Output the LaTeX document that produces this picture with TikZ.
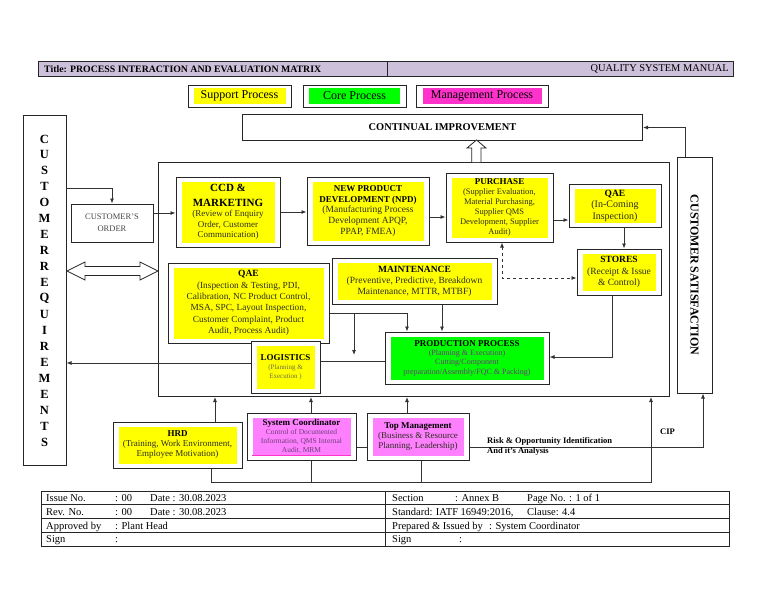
\documentclass[tikz,border=0pt]{standalone}
\usepackage{fontspec}
\setmainfont{Liberation Serif}
\usetikzlibrary{arrows.meta}
\setlength\parindent{0pt}
\definecolor{ylw}{RGB}{255,255,0}
\definecolor{grn}{RGB}{0,255,0}
\definecolor{mag}{RGB}{255,51,204}
\definecolor{pnk}{RGB}{255,128,255}
\definecolor{lav}{RGB}{204,192,218}
\definecolor{txt}{RGB}{45,45,30}
\definecolor{olv}{RGB}{110,110,70}
\definecolor{prp}{RGB}{110,60,120}
\newcommand\mytext[3]{{\fontsize{#1}{#2}\selectfont #3\par}}
\tikzset{
  pbox/.style={draw=black!85, fill=white, line width=1pt, inner sep=0pt, align=flush center,
    path picture={\fill[#1] ([xshift=5.5pt,yshift=-4.5pt]path picture bounding box.north west) rectangle ([xshift=-5.5pt,yshift=4.5pt]path picture bounding box.south east);}},
  plain/.style={draw=black!85, fill=white, line width=1pt, inner sep=0pt, align=flush center},
  arr/.style={draw=black!80, line width=0.8pt, -{Latex[length=5pt,width=4pt]}},
  darr/.style={draw=black!80, line width=0.8pt, dashed, {Latex[length=5pt,width=4pt]}-{Latex[length=5pt,width=4pt]}},
  conn/.style={draw=black!80, line width=0.8pt},
  ftxt/.style={anchor=base west, inner sep=0pt, font=\fontsize{10.5}{12}\selectfont},
}
\begin{document}
\begin{tikzpicture}[x=1pt,y=-1pt]
\useasboundingbox[fill=white] (0,0) rectangle (768,594);

% ---------- title bar ----------
\node[plain, fill=lav, line width=0.9pt, minimum width=349, minimum height=15, anchor=north west] (tl) at (38,61) {};
\node[plain, fill=lav, line width=0.9pt, minimum width=346, minimum height=15, anchor=north west] (tr) at (387,61) {};
\node[anchor=west, inner sep=0pt, font=\bfseries\fontsize{9.8}{10}\selectfont] (tlt) at ([xshift=6]tl.west) {Title: PROCESS INTERACTION AND EVALUATION MATRIX};
\node[anchor=east, inner sep=0pt, font=\fontsize{10.4}{11}\selectfont] (trt) at ([xshift=-5]tr.east) {QUALITY SYSTEM MANUAL};

% ---------- legend ----------
\node[plain, minimum width=103, minimum height=22] (l1) at (239.5,96) {};
\node[fill=ylw, minimum width=92, minimum height=15.7, inner sep=0pt, font=\fontsize{12}{12}\selectfont] (l1t) at (l1) {Support Process};
\node[plain, minimum width=103, minimum height=22] (l2) at (354.5,96) {};
\node[fill=grn, minimum width=90.5, minimum height=15.7, inner sep=0pt, font=\fontsize{12}{12}\selectfont] (l2t) at (l2) {Core Process};
\node[plain, minimum width=132, minimum height=22] (l3) at (482,96) {};
\node[fill=mag, minimum width=119, minimum height=15.7, inner sep=0pt, font=\fontsize{12}{12}\selectfont] (l3t) at (l3) {Management Process};

% ---------- frames ----------
\node[plain, minimum width=400, minimum height=26, anchor=north west, font=\bfseries\fontsize{10.4}{12}\selectfont] (ci) at (242,114) {CONTINUAL IMPROVEMENT};
\node[plain, minimum width=511, minimum height=234, anchor=north west] (main) at (158,162) {};
\node[plain, minimum width=43, minimum height=350] (cr) at (44.5,290) {};
\foreach \l [count=\i from 0] in {C,U,S,T,O,M,E,R,R,E,Q,U,I,R,E,M,E,N,T,S}
  \node[inner sep=0pt, font=\bfseries\fontsize{12.5}{13}\selectfont] (crl\i) at (44.5,139+\i*15.95) {\l};
\node[plain, minimum width=35, minimum height=236] (cs) at (694.5,275) {};
\node[rotate=-90, inner sep=0pt, font=\bfseries\fontsize{12}{13}\selectfont] (cst) at (cs) {CUSTOMER SATISFACTION};

\node[plain, minimum width=82, minimum height=38, text width=78, font=\fontsize{8.5}{12}\selectfont\color{black!72}] (ord) at (112,223) {CUSTOMER'S\\ORDER};

% ---------- process boxes ----------
\node[pbox=ylw, minimum width=104, minimum height=70, text width=92] (ccd) at (228,212)
 {\mytext{11}{14.5}{\bfseries CCD \&\\MARKETING}\mytext{9}{10.5}{\color{txt}(Review of Enquiry\\Order, Customer\\Communication)}};
\node[pbox=ylw, minimum width=122, minimum height=68, text width=110] (npd) at (368,211)
 {\mytext{9}{10.7}{\bfseries NEW PRODUCT\\DEVELOPMENT (NPD)}\mytext{9.5}{10.7}{\color{txt}(Manufacturing Process\\Development APQP,\\PPAP, FMEA)}};
\node[pbox=ylw, minimum width=107, minimum height=69, text width=95] (purch) at (499.5,207.5)
 {\mytext{9}{10}{\bfseries PURCHASE}\mytext{8.5}{10}{\color{txt}(Supplier Evaluation,\\Material Purchasing,\\Supplier QMS\\Development, Supplier\\Audit)}};
\node[pbox=ylw, minimum width=92, minimum height=43, text width=80] (qaein) at (615,205.5)
 {\mytext{9.5}{11.5}{\bfseries QAE}\mytext{10}{11.5}{\color{txt}(In-Coming\\Inspection)}};
\node[pbox=ylw, minimum width=84, minimum height=46, text width=74] (stores) at (619,272)
 {\mytext{9.5}{11.5}{\bfseries STORES}\mytext{9.5}{11.5}{\color{txt}(Receipt \& Issue\\\& Control)}};
\node[pbox=ylw, minimum width=165, minimum height=46, text width=155] (maint) at (414.5,281)
 {\mytext{9.5}{11}{\bfseries MAINTENANCE}\mytext{9.5}{11}{\color{txt}(Preventive, Predictive, Breakdown\\Maintenance, MTTR, MTBF)}};
\node[pbox=ylw, minimum width=161, minimum height=80, text width=150] (qae) at (248.5,303)
 {\mytext{9.5}{11.4}{\bfseries QAE}\mytext{9.3}{11.4}{\color{txt}(Inspection \& Testing, PDI,\\Calibration, NC Product Control,\\MSA, SPC, Layout Inspection,\\Customer Complaint, Product\\Audit, Process Audit)}};
\node[pbox=ylw, minimum width=69, minimum height=52, text width=58] (log) at (285.5,367)
 {\mytext{9}{11}{\bfseries LOGISTICS}\mytext{7}{9}{\color{olv}(Planning \&\\Execution )}};
\node[pbox=grn, minimum width=164, minimum height=52, text width=154] (prod) at (467,358)
 {\mytext{9}{10}{\bfseries PRODUCTION PROCESS}\mytext{8}{9.3}{\color{prp}(Planning \& Execution)\\Cutting/Component\\preparation/Assembly/FQC \& Packing)}};

% ---------- bottom boxes ----------
\node[pbox=ylw, minimum width=129, minimum height=46, text width=118] (hrd) at (177.5,445)
 {\mytext{9}{10}{\bfseries HRD}\mytext{9}{10}{\color{txt}(Training, Work Environment,\\Employee Motivation)}};
\node[pbox=pnk, minimum width=109, minimum height=47, text width=98] (sys) at (301.5,436.5)
 {\mytext{9}{10}{\bfseries System Coordinator}\mytext{7.5}{9}{\color{prp}Control of Documented\\Information, QMS Internal\\Audit, MRM}};
\draw[mag, line width=0.8pt] ([xshift=5.5,yshift=5]sys.south west) -- ([xshift=-5.5,yshift=5]sys.south east);
\node[pbox=pnk, minimum width=102, minimum height=47, text width=92] (top) at (418,436.5)
 {\mytext{9}{10}{\bfseries Top Management}\mytext{9}{10}{\color{txt}(Business \& Resource\\Planning, Leadership)}};

% ---------- connectors ----------
\draw[arr] (cr.east |- 0,188) -| (ord.north);
\draw[arr] (ord.east |- 0,213) -- (ccd.west |- 0,213);
\draw[arr] (ccd.east |- 0,212) -- (npd.west |- 0,212);
\draw[arr] (npd.east |- 0,217) -- (purch.west |- 0,217);
\draw[arr] (purch.east |- 0,220) -- (qaein.west |- 0,220);
\draw[arr] (qaein.south -| 624,0) -- (stores.north -| 624,0);
\draw[darr] (purch.south -| 502,0) |- (stores.west |- 0,278);
\draw[arr] (stores.south -| 612,0) |- (prod.east |- 0,357);
\draw[arr] (maint.south -| 442,0) -- (prod.north -| 442,0);
\draw[arr] (qae.east |- 0,313) -| (prod.north -| 407,0);
\coordinate (jb) at (354,313);
\draw[arr] (jb) -- (354,355);
\draw[conn] (log.east |- 0,361) -- (prod.west |- 0,361);
\draw[arr] (log.west |- 0,363) -- (cr.east |- 0,363);
\draw[arr] (cs.north -| 685,0) |- (ci.east);

\draw[arr] (hrd.north -| 215,0) -- (main.south -| 215,0);
\draw[arr] (sys.north -| 311,0) -- (main.south -| 311,0);
\draw[arr] (top.north -| 407,0) -- (main.south -| 407,0);
\draw[arr] (hrd.south -| 211,0) -- (211,482) -- (651,482) -- (main.south -| 651,0);
\draw[conn] (sys.south -| 311,0) -- (311,482);
\draw[conn] (top.south -| 421,0) -- (421,482);
\draw[conn] (sys.east |- 0,447) -- (top.west |- 0,447);
\draw[arr] (top.east |- 0,447) -| (cs.south -| 703,0);

% hollow arrows
\draw[line width=0.8pt, draw=black!85, fill=white] (471.7,162) -- (471.7,148) -- (467,148) -- (476.5,140) -- (486,148) -- (481,148) -- (481,162);
\draw[line width=0.8pt, draw=black!85, fill=white] (67,271) -- (85,262) -- (85,266.5) -- (140,266.5) -- (140,262) -- (158,271) -- (140,280) -- (140,275.5) -- (85,275.5) -- (85,280) -- cycle;

% labels
\node[anchor=west, inner sep=0pt, align=left, font=\bfseries\fontsize{8.5}{10}\selectfont] (risk) at (487,446) {Risk \& Opportunity Identification\\And it's Analysis};
\node[anchor=west, inner sep=0pt, font=\bfseries\fontsize{8.5}{10}\selectfont] (cip) at (660,432) {CIP};

% ---------- footer ----------
\draw[line width=0.9pt, draw=black!85] (41,491) rectangle (729,546);
\draw[line width=0.7pt, draw=black!85] (41,504.75) -- (729,504.75) (41,518.5) -- (729,518.5) (41,532.25) -- (729,532.25) (385,491) -- (385,546);
\node[ftxt] (f11) at (46,501.6) {Issue No.};
\node[ftxt] (f12) at (115,501.6) {: 00};
\node[ftxt] (f13) at (150,501.6) {Date : 30.08.2023};
\node[ftxt] (f14) at (392,501.6) {Section};
\node[ftxt] (f15) at (455,501.6) {: Annex B};
\node[ftxt] (f16) at (527,501.6) {Page No. : 1 of 1};
\node[ftxt] (f21) at (46,515.3) {Rev. No.};
\node[ftxt] (f22) at (115,515.3) {: 00};
\node[ftxt] (f23) at (150,515.3) {Date : 30.08.2023};
\node[ftxt] (f24) at (392,515.3) {Standard: IATF 16949:2016,};
\node[ftxt] (f25) at (527,515.3) {Clause: 4.4};
\node[ftxt] (f31) at (46,529.1) {Approved by};
\node[ftxt] (f32) at (115,529.1) {: Plant Head};
\node[ftxt] (f33) at (392,529.1) {Prepared \& Issued by};
\node[ftxt] (f34) at (489,529.1) {: System Coordinator};
\node[ftxt] (f41) at (46,542.8) {Sign};
\node[ftxt] (f42) at (115,542.8) {:};
\node[ftxt] (f43) at (392,542.8) {Sign};
\node[ftxt] (f44) at (459,542.8) {:};
\end{tikzpicture}
\end{document}
